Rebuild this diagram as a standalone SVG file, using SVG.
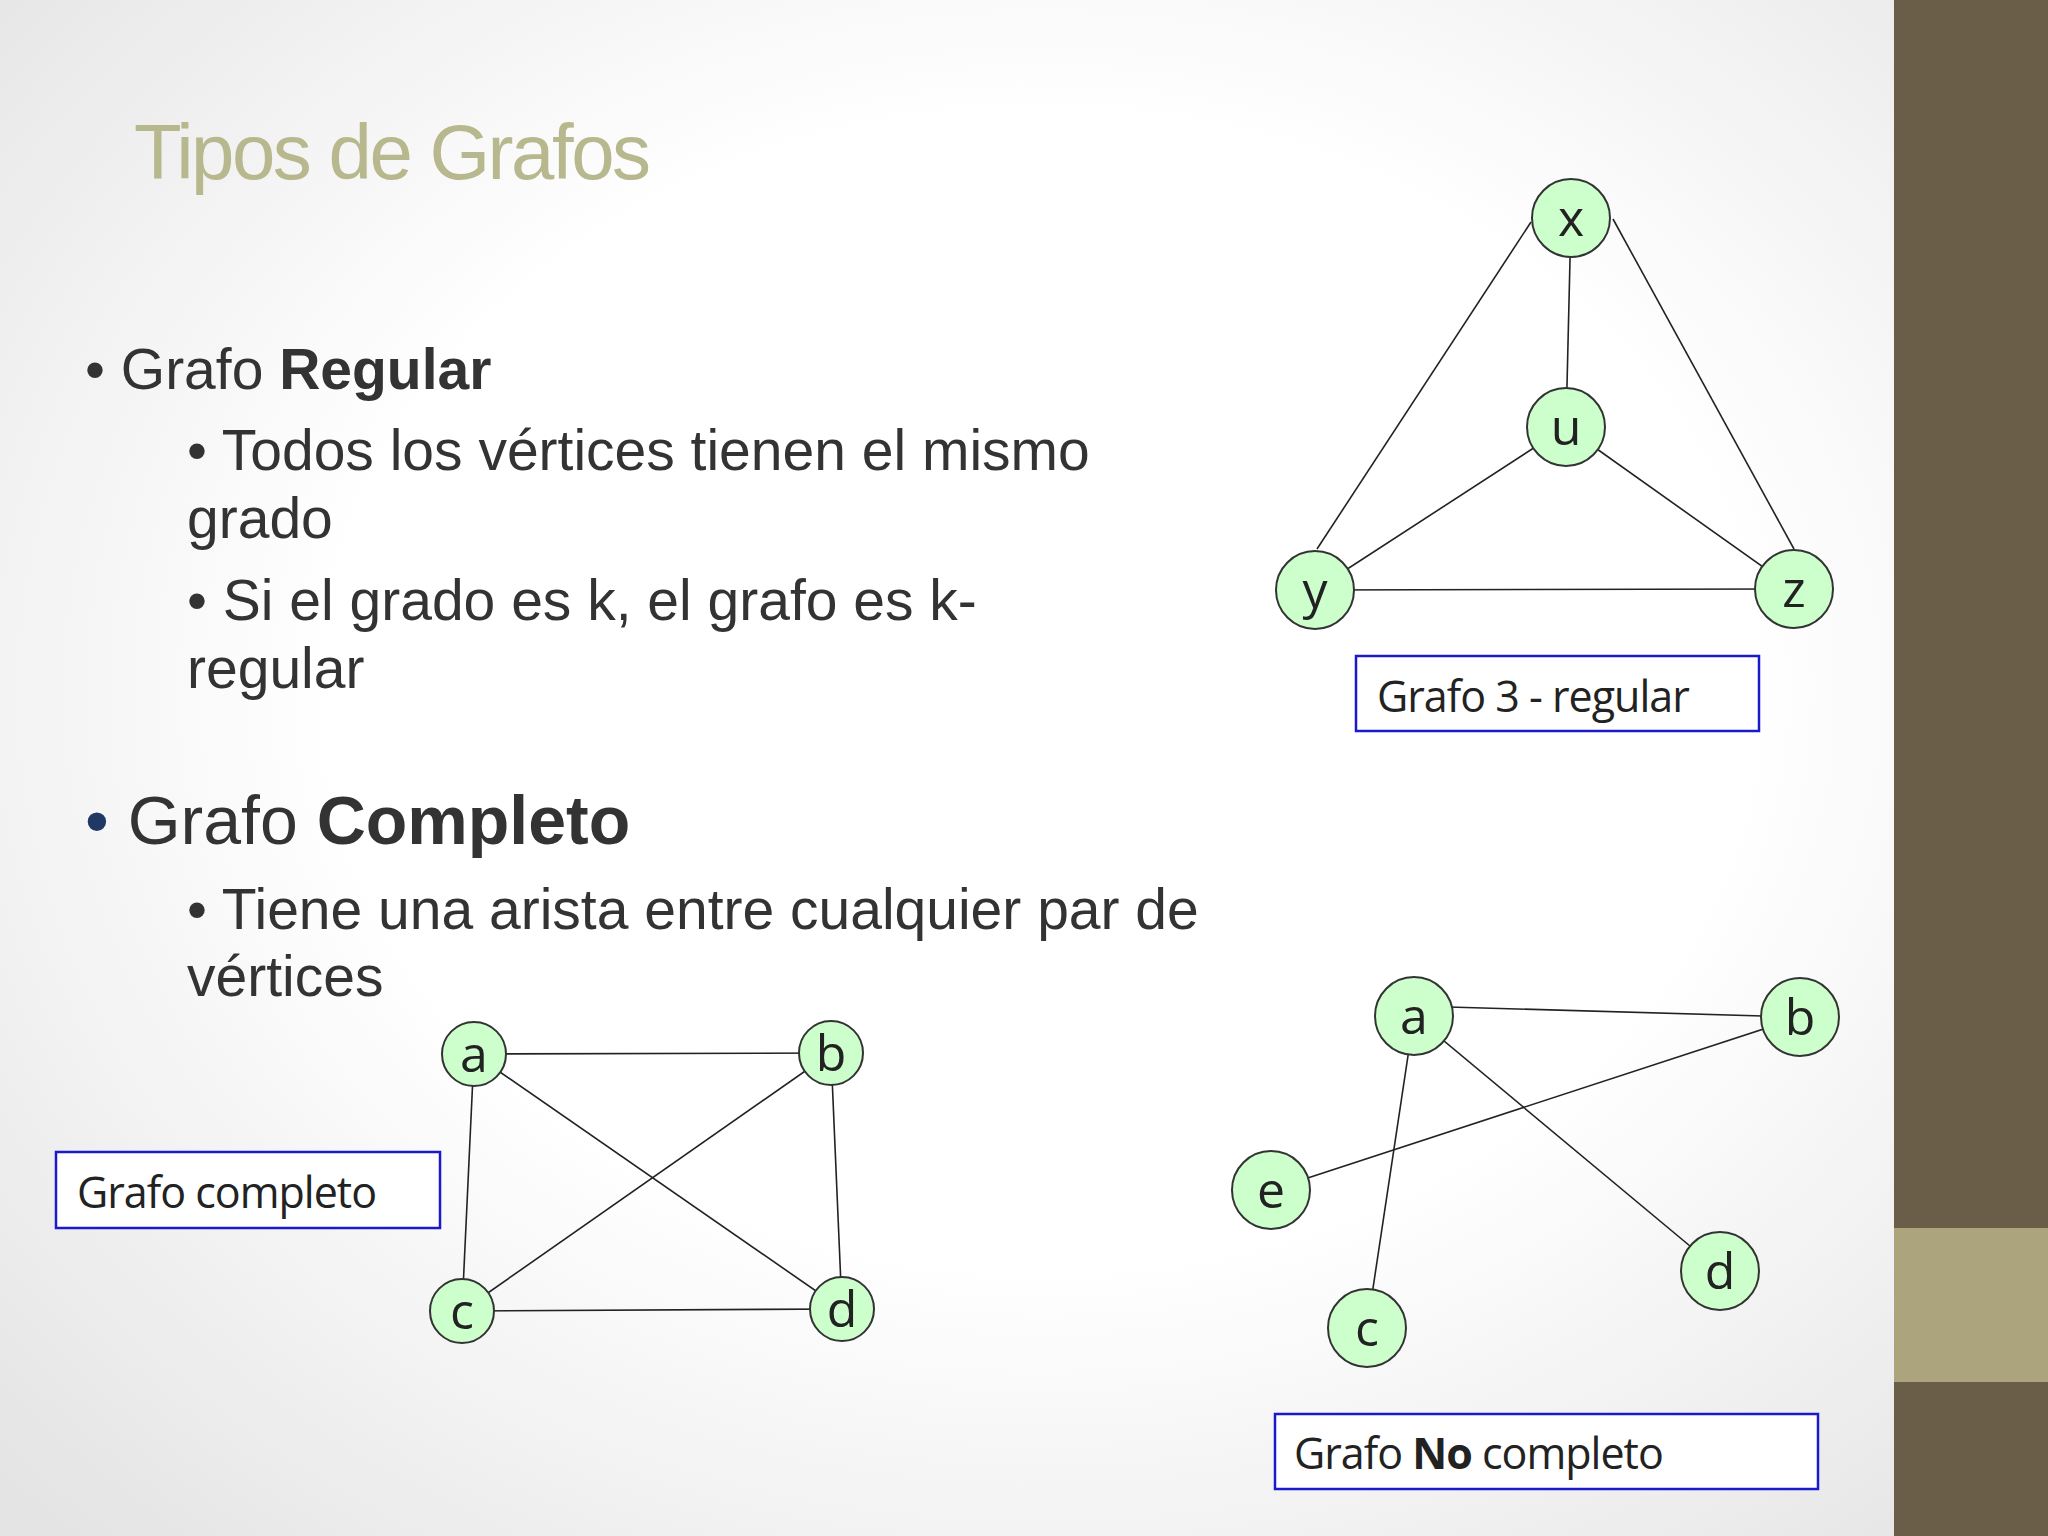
<svg xmlns="http://www.w3.org/2000/svg" width="2048" height="1536" viewBox="0 0 2048 1536">
<defs>
<radialGradient id="bg" cx="0.55" cy="0.45" r="0.75">
<stop offset="0.5" stop-color="#ffffff"/><stop offset="1" stop-color="#e4e4e4"/>
</radialGradient>
<style>
.n circle{fill:#ccffcc;stroke:#333;stroke-width:2}
.n text{font-family:"Open Sans","Liberation Sans",sans-serif;font-size:50px;fill:#222;text-anchor:middle}
.e line{stroke:#222;stroke-width:1.6}
.t{font-family:"Liberation Sans",Arial,sans-serif;fill:#333}
.box{fill:#fff;stroke:#1a1acc;stroke-width:2.5}
.bl{font-family:"Open Sans","Liberation Sans",sans-serif;font-size:43px;fill:#222}
</style>
</defs>
<rect width="1894" height="1536" fill="url(#bg)"/>
<rect x="1894" width="154" height="1536" fill="#6b5e49"/>
<rect x="1894" y="1228" width="154" height="154" fill="#aba47d"/>
<text x="134" y="179" class="t" font-size="78" letter-spacing="-2.5" style="fill:#b8b88e">Tipos de Grafos</text>
<text x="85" y="389" class="t" font-size="57">• Grafo <tspan font-weight="bold">Regular</tspan></text>
<text class="t" font-size="57"><tspan x="187" y="470">• Todos los vértices tienen el mismo</tspan><tspan x="187" y="538">grado</tspan><tspan x="187" y="620">• Si el grado es k, el grafo es k-</tspan><tspan x="187" y="688">regular</tspan></text>
<text x="85" y="844" class="t" font-size="68"><tspan fill="#1f3864">•</tspan> Grafo <tspan font-weight="bold">Completo</tspan></text>
<text class="t" font-size="57"><tspan x="187" y="929">• Tiene una arista entre cualquier par de</tspan><tspan x="187" y="996">vértices</tspan></text>
<g id="connectors" class="e">
<line x1="1571" y1="218" x2="1566" y2="427"/><line x1="1531" y1="222" x2="1317" y2="549"/><line x1="1613" y1="219" x2="1794" y2="549"/>
<line x1="1566" y1="427" x2="1315" y2="590"/><line x1="1566" y1="427" x2="1794" y2="589"/><line x1="1315" y1="590" x2="1794" y2="589"/>
<line x1="474" y1="1054" x2="831" y2="1053"/><line x1="474" y1="1054" x2="462" y2="1311"/><line x1="474" y1="1054" x2="842" y2="1309"/>
<line x1="831" y1="1053" x2="462" y2="1311"/><line x1="831" y1="1053" x2="842" y2="1309"/><line x1="462" y1="1311" x2="842" y2="1309"/>
<line x1="1414" y1="1006" x2="1800" y2="1017"/><line x1="1414" y1="1016" x2="1367" y2="1328"/><line x1="1414" y1="1016" x2="1720" y2="1271"/><line x1="1271" y1="1190" x2="1800" y2="1017"/>
</g>
<g id="rx" class="n"><circle cx="1571" cy="218" r="39"/><text x="1571" y="236">x</text></g>
<g id="ru" class="n"><circle cx="1566" cy="427" r="39"/><text x="1566" y="445">u</text></g>
<g id="ry" class="n"><circle cx="1315" cy="590" r="39"/><text x="1315" y="608">y</text></g>
<g id="rz" class="n"><circle cx="1794" cy="589" r="39"/><text x="1794" y="607">z</text></g>
<g id="ca" class="n"><circle cx="474" cy="1054" r="32"/><text x="474" y="1072">a</text></g>
<g id="cb" class="n"><circle cx="831" cy="1053" r="32"/><text x="831" y="1071">b</text></g>
<g id="cc" class="n"><circle cx="462" cy="1311" r="32"/><text x="462" y="1329">c</text></g>
<g id="cd" class="n"><circle cx="842" cy="1309" r="32"/><text x="842" y="1327">d</text></g>
<g id="na" class="n"><circle cx="1414" cy="1016" r="39"/><text x="1414" y="1034">a</text></g>
<g id="nb" class="n"><circle cx="1800" cy="1017" r="39"/><text x="1800" y="1035">b</text></g>
<g id="ne" class="n"><circle cx="1271" cy="1190" r="39"/><text x="1271" y="1208">e</text></g>
<g id="nc" class="n"><circle cx="1367" cy="1328" r="39"/><text x="1367" y="1346">c</text></g>
<g id="nd" class="n"><circle cx="1720" cy="1271" r="39"/><text x="1720" y="1289">d</text></g>
<g id="lbl1"><rect class="box" x="1356" y="656" width="403" height="75"/><text class="bl" x="1377" y="712" letter-spacing="-1">Grafo 3 - regular</text></g>
<g id="lbl2"><rect class="box" x="56" y="1152" width="384" height="76"/><text class="bl" x="77" y="1208" letter-spacing="-1">Grafo completo</text></g>
<g id="lbl3"><rect class="box" x="1275" y="1414" width="543" height="75"/><text class="bl" x="1294" y="1469" letter-spacing="-1">Grafo <tspan font-weight="bold">No</tspan> completo</text></g>
</svg>
